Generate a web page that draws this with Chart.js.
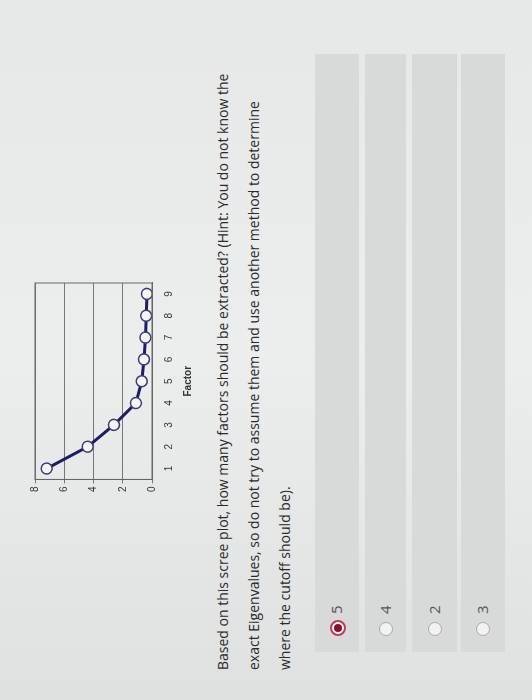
<!DOCTYPE html><html><head><meta charset="utf-8">
<script src="https://cdn.jsdelivr.net/npm/chart.js@4"></script>
<style>
html,body{margin:0;padding:0;width:532px;height:700px;overflow:hidden;background:#e4e6e6;}
#page{position:absolute;left:0;top:0;width:700px;height:532px;transform-origin:0 0;transform:translate(0,700px) rotate(-90deg);background:linear-gradient(90deg,#dfe1e1,#eceeee 50%,#e6e8e8);font-family:"Open Sans",sans-serif;color:#333;}
#cw{position:absolute;left:205px;top:26px;width:220px;height:172px;}
.q{position:absolute;left:30px;top:207px;width:600px;font-size:14px;line-height:31px;color:#2a2a2a;}
.opt{position:absolute;left:48px;width:598px;background:#d8d9d9;font-size:15px;color:#555;}
.opt span.r{position:absolute;left:16px;top:50%;width:12px;height:12px;margin-top:-7px;border:1.5px solid #aaa;border-radius:50%;background:#f2f2f2;}
.opt span.t{position:absolute;left:38px;top:50%;margin-top:-11px;}
.sel span.r{border:2px solid #c0395a;background:#fff;}
.sel span.r::after{content:"";position:absolute;left:2px;top:2px;width:8px;height:8px;border-radius:50%;background:#8a1030;}
</style></head><body>
<div id="page">
<div id="cw"><canvas id="c" width="220" height="172"></canvas></div>
<div class="q">Based on this scree plot, how many factors should be extracted? (Hint: You do not know the exact Eigenvalues, so do not try to assume them and use another method to determine where the cutoff should be).</div>
<div class="opt sel" style="top:315px;height:44px"><span class="r"></span><span class="t">5</span></div>
<div class="opt" style="top:365px;height:41px"><span class="r"></span><span class="t">4</span></div>
<div class="opt" style="top:412px;height:45px"><span class="r"></span><span class="t">2</span></div>
<div class="opt" style="top:461px;height:44px"><span class="r"></span><span class="t">3</span></div>
</div>
<script>
const factors=["1","2","3","4","5","6","7","8","9"];
const eigenvalues=[7.2,4.4,2.6,1.1,0.7,0.55,0.45,0.4,0.35];
const yTicks=[0,2,4,6,8];
new Chart(document.getElementById('c'),{type:'line',
data:{labels:factors,datasets:[{data:eigenvalues,borderColor:'#1c1f66',borderWidth:3,pointRadius:5.5,pointBackgroundColor:'#f4f4f4',pointBorderColor:'#3a3d70',pointBorderWidth:1.5,tension:0}]},
options:{responsive:false,animation:false,layout:{padding:{top:8,right:8}},
plugins:{legend:{display:false},tooltip:{enabled:false}},
scales:{x:{offset:true,grid:{display:false},border:{color:'#666'},ticks:{color:'#333',font:{size:10}},title:{display:true,text:'Factor',color:'#333',font:{size:10,weight:'bold'}}},
y:{min:0,max:8,afterBuildTicks:a=>{a.ticks=yTicks.map(v=>({value:v}));},grid:{color:'#777',drawTicks:true,tickLength:4},border:{color:'#666'},ticks:{color:'#333',font:{size:10}}}}},
plugins:[{id:'box',afterDraw(ch){const a=ch.chartArea,c=ch.ctx;c.save();c.strokeStyle='#666';c.lineWidth=1;c.strokeRect(a.left,a.top,a.right-a.left,a.bottom-a.top);c.restore();}}]
});
</script></body></html>
